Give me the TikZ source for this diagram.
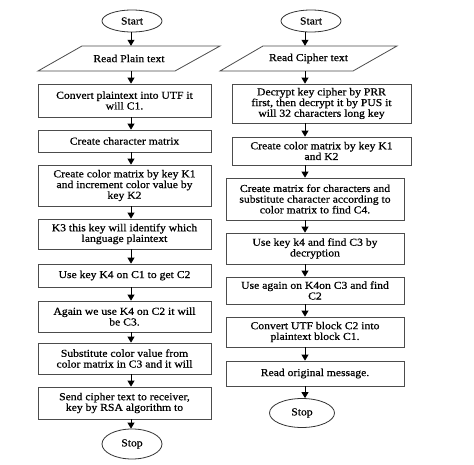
\documentclass[tikz,border=0pt]{standalone}
\usepackage{fontspec}
\setmainfont{Liberation Serif}[FakeStretch=1.1,FakeBold=0.6]
\usetikzlibrary{shapes.geometric,arrows.meta}
\begin{document}
\begin{tikzpicture}[x=1pt,y=-1pt,
  txt/.style={font=\fontsize{10.6}{10.7}\selectfont},
  box/.style={txt,draw=black!70,line width=0.8pt,rectangle,align=center,inner sep=0pt},
  term/.style={txt,draw=black!80,line width=0.8pt,ellipse,inner sep=0pt},
  io/.style={txt,rectangle,inner sep=0pt,align=center},
  para/.style={draw=black!70,line width=0.8pt},
  arr/.style={line width=0.9pt,-{Triangle[length=6pt,width=7pt]}}]
\useasboundingbox (0,0) rectangle (474,465);
\fill[white] (0,0) rectangle (474,465);
\coordinate (L) at (131,0);
\coordinate (R) at (305,0);
% left column
\node[term,minimum width=60pt,minimum height=22pt] (start1) at (132,21) {Start};
\node[io,minimum width=137pt,minimum height=25pt] (read1) at (129,58.5) {Read Plain text};
\draw[para] (38,71) -- (82,46) -- (220,46) -- (175,71) -- cycle;
\node[box,minimum width=173pt,minimum height=33pt] (conv1) at (124.5,100.5) {Convert plaintext into UTF it\\will C1.};
\node[box,minimum width=173pt,minimum height=22pt] (char1) at (124.5,141) {Create character matrix};
\node[box,minimum width=173pt,minimum height=41pt] (color1) at (124.5,185.5) {Create color matrix by key K1\\and increment color value by\\key K2};
\node[box,minimum width=173pt,minimum height=30pt] (k31) at (124.5,234) {K3 this key will identify which\\language plaintext};
\node[box,minimum width=173pt,minimum height=23pt] (use1) at (124.5,275.5) {Use key K4 on C1 to get C2};
\node[box,minimum width=173pt,minimum height=31pt] (again1) at (124.5,316.5) {Again we use K4 on C2 it will\\be C3.};
\node[box,minimum width=173pt,minimum height=31pt] (subst1) at (124.5,358.5) {Substitute color value from\\color matrix in C3 and it will};
\node[box,minimum width=173pt,minimum height=32pt] (send1) at (124.5,403) {Send cipher text to receiver,\\key by RSA algorithm to};
\node[term,minimum width=60pt,minimum height=30pt] (stop1) at (132,444) {Stop};
\draw[arr] (start1.south -| L) -- (read1.north -| L);
\draw[arr] (read1.south -| L) -- (conv1.north -| L);
\draw[arr] (conv1.south -| L) -- (char1.north -| L);
\draw[arr] (char1.south -| L) -- (color1.north -| L);
\draw[arr] (color1.south -| L) -- (k31.north -| L);
\draw[arr] (k31.south -| L) -- (use1.north -| L);
\draw[arr] (use1.south -| L) -- (again1.north -| L);
\draw[arr] (again1.south -| L) -- (subst1.north -| L);
\draw[arr] (subst1.south -| L) -- (send1.north -| L);
\draw[arr] (send1.south -| L) -- (stop1.north -| L);
% right column
\node[term,minimum width=60pt,minimum height=22pt] (start2) at (311,21) {Start};
\node[io,minimum width=134pt,minimum height=25pt] (read2) at (308.5,58.5) {Read Cipher text};
\draw[para] (220,71) -- (263,46) -- (397,46) -- (353,71) -- cycle;
\node[box,minimum width=179pt,minimum height=39pt] (dec2) at (321.5,103.5) {Decrypt key cipher by PRR\\first, then decrypt it by PUS it\\will 32 characters long key};
\node[box,minimum width=179pt,minimum height=28pt] (col2) at (321.5,151) {Create color matrix by key K1\\and K2};
\node[box,minimum width=178pt,minimum height=42pt] (mat2) at (315,199) {Create matrix for characters and\\substitute character according to\\color matrix to find C4.};
\node[box,minimum width=178pt,minimum height=31pt] (k42) at (315,248.5) {Use key k4 and find C3 by\\decryption};
\node[box,minimum width=178pt,minimum height=27pt] (again2) at (315,290.5) {Use again on K4on C3 and find\\C2};
\node[box,minimum width=178pt,minimum height=30pt] (conv2) at (315,332) {Convert UTF block C2 into\\plaintext block C1.};
\node[box,minimum width=178pt,minimum height=25pt] (read3) at (315,373.5) {Read original message.};
\node[term,minimum width=65pt,minimum height=29pt] (stop2) at (302,413) {Stop};
\draw[arr] (start2.south -| R) -- (read2.north -| R);
\draw[arr] (read2.south -| R) -- (dec2.north -| R);
\draw[arr] (dec2.south -| R) -- (col2.north -| R);
\draw[arr] (col2.south -| R) -- (mat2.north -| R);
\draw[arr] (mat2.south -| R) -- (k42.north -| R);
\draw[arr] (k42.south -| R) -- (again2.north -| R);
\draw[arr] (again2.south -| R) -- (conv2.north -| R);
\draw[arr] (conv2.south -| R) -- (read3.north -| R);
\draw[arr] (read3.south -| R) -- (stop2.north -| R);
\end{tikzpicture}
\end{document}
